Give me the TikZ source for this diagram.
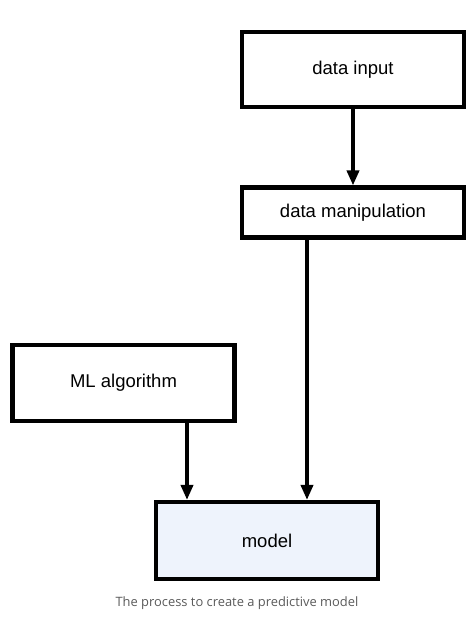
\documentclass[tikz,border=0pt]{standalone}
\usepackage{fontspec}
\setmainfont{Liberation Sans}
\newfontfamily\capfont{Open Sans}
\usetikzlibrary{arrows.meta}
\definecolor{modelfill}{HTML}{EEF3FC}
\definecolor{capgray}{HTML}{5A5A5A}
\begin{document}
\begin{tikzpicture}[x=1pt,y=-1pt,
  box/.style={draw=black,line width=4.2pt,minimum width=222pt,minimum height=0pt,inner sep=0pt,font=\fontsize{18.5}{22}\selectfont},
  conn/.style={line width=3.6pt,-{Triangle[length=15pt,width=12pt]}}]
\useasboundingbox (0,0) rectangle (474,619);
\node[box,minimum height=75pt] (input) at (353,69.5) {data input};
\node[box,minimum height=50pt] (manip) at (353,212.5) {data manipulation};
\node[box,minimum height=76pt] (ml) at (123.5,383) {ML algorithm};
\node[box,minimum height=77pt,fill=modelfill] (model) at (267,540.5) {model};
\node[font=\capfont\fontsize{12.9}{15}\selectfont,text=capgray] (cap) at (237,603) {The process to create a predictive model};
\draw[conn] (input.south) -- (manip.north);
\draw[conn] (manip.south -| 307,0) -- (model.north -| 307,0);
\draw[conn] (ml.south -| 187,0) -- (model.north -| 187,0);
\end{tikzpicture}
\end{document}
